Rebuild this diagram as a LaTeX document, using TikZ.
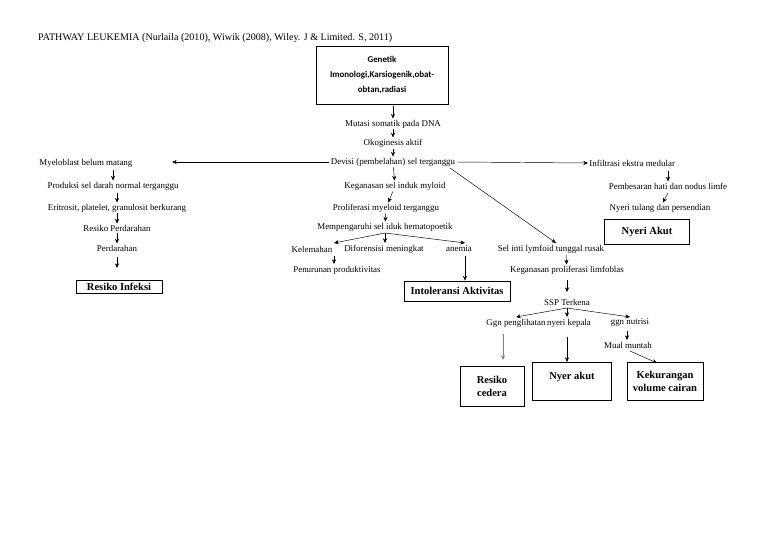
\documentclass[tikz,border=0pt]{standalone}
\usepackage{fontspec}
\setmainfont{Liberation Serif}
\newfontfamily\carl{Carlito}
\usetikzlibrary{arrows.meta}
\begin{document}
\begin{tikzpicture}[x=0.3mm,y=-0.3mm,
  t/.style={inner sep=1pt,font=\fontsize{7.6}{9}\selectfont},
  bx/.style={draw,thick,inner sep=2pt,align=center,font=\fontsize{9}{11}\selectfont\bfseries},
  ar/.style={-{Stealth[length=4pt,width=3.5pt]},thin},
  ln/.style={thin}]
\useasboundingbox (0,0) rectangle (768,543);
\node[anchor=west,inner sep=0pt,font=\fontsize{8.6}{10}\selectfont] (title) at (38,38) {PATHWAY LEUKEMIA (Nurlaila (2010), Wiwik (2008), Wiley. J \& Limited. S, 2011)};
\node[draw,thick,minimum width=132*0.3mm,minimum height=58*0.3mm,align=center,font=\carl\fontsize{7.6}{13}\selectfont\bfseries] (gen) at (382,75) {Genetik\\Imonologi,Karsiogenik,obat-\\obtan,radiasi};
\node[t] (mut) at (393,124) {Mutasi somatik pada DNA};
\node[t] (oko) at (393,143) {Okoginesis aktif};
\node[t] (dev) at (393,162) {Devisi (pembelahan) sel terganggu};
\draw[ar] (393,106) -- (mut);
\draw[ar] (mut) -- (oko);
\draw[ar] (oko) -- (dev);
% left
\node[t,anchor=west] (mye) at (38,163) {Myeloblast belum matang};
\node[t] (pro) at (113,186) {Produksi sel darah normal terganggu};
\node[t] (eri) at (117,208) {Eritrosit, platelet, granulosit berkurang};
\node[t] (rp) at (117,228) {Resiko Perdarahan};
\node[t] (per) at (117,248) {Perdarahan};
\node[bx,minimum width=86*0.3mm] (ri) at (119,287) {Resiko Infeksi};
\draw[ar] (dev.west) -- (172,162);
\draw[ar] (113,170) -- (pro);
\draw[ar] (117,193) -- (eri);
\draw[ar] (eri) -- (rp);
\draw[ar] (rp) -- (per);
\draw[ar] (117,257) -- (117,268);
% right
\node[t,anchor=west] (inf) at (588,163) {Infiltrasi ekstra medular};
\node[t] (pem) at (668,186) {Pembesaran hati dan nodus limfe};
\node[t] (nyt) at (660,208) {Nyeri tulang dan persendian};
\node[bx,minimum width=85*0.3mm,minimum height=25*0.3mm] (na) at (647,232) {Nyeri Akut};
\draw[ar] (dev.east) -- (inf.west);
\draw[ar] (668,171) -- (pem);
\draw[ar] (668,193) -- (nyt);
% center
\node[t] (keg) at (395,186) {Keganasan sel induk myloid};
\node[t] (prm) at (386,208) {Proliferasi myeloid terganggu};
\node[t] (mem) at (385,227) {Mempengaruhi sel iduk hematopoetik};
\node[t] (kel) at (312,249) {Kelemahan};
\node[t] (dif) at (384,249) {Diforensisi meningkat};
\node[t] (ane) at (459,249) {anemia};
\node[t] (pen) at (337,270) {Penurunan produktivitas};
\node[bx,minimum width=106*0.3mm,minimum height=20*0.3mm] (int) at (457,291) {Intoleransi Aktivitas};
\draw[ar] (dev) -- (keg);
\draw[ar] (keg) -- (prm);
\draw[ar] (prm) -- (mem);
\coordinate (sp1) at (385,233);
\draw[ar] (sp1) -- (334,243);
\draw[ar] (sp1) -- (385,243);
\draw[ar] (sp1) -- (465,243);
\draw[ar] (334,256) -- (334,264);
\draw[ar] (465,256) -- (int.north -| 465,0);
% diagonal branch
\node[t] (sel) at (551,249) {Sel inti lymfoid tunggal rusak};
\node[t] (kpl) at (567,270) {Keganasan proliferasi limfoblas};
\node[t] (ssp) at (567,302) {SSP Terkena};
\draw[ar] (450,168) -- (556,243);
\draw[ar] (566,255) -- (kpl);
\draw[ar] (567,280) -- (567,292);
\coordinate (sp2) at (567,308);
\node[t] (ggn) at (516,323) {Ggn penglihatan};
\node[t] (nk) at (569,323) {nyeri kepala};
\node[t] (gnu) at (630,323) {ggn nutrisi};
\node[t] (mm) at (628,345) {Mual muntah};
\draw[ar] (sp2) -- (516,317);
\draw[ar] (sp2) -- (567,317);
\draw[ar] (sp2) -- (630,317);
\draw[ar] (627,331) -- (627,340);
\node[bx,minimum width=64*0.3mm,minimum height=40*0.3mm] (rc) at (492,386) {Resiko\\cedera};
\node[bx,minimum width=79*0.3mm,minimum height=38*0.3mm] (nya) at (572,381) {\raisebox{8pt}{Nyer akut}};
\node[bx,minimum width=76*0.3mm,minimum height=38*0.3mm] (kek) at (665,381) {Kekurangan\\volume cairan};
\draw[ar,gray] (503,334) -- (503,360);
\draw[ar] (567,337) -- (567,362);
\draw[ar] (630,351) -- (657,363);
\end{tikzpicture}
\end{document}
